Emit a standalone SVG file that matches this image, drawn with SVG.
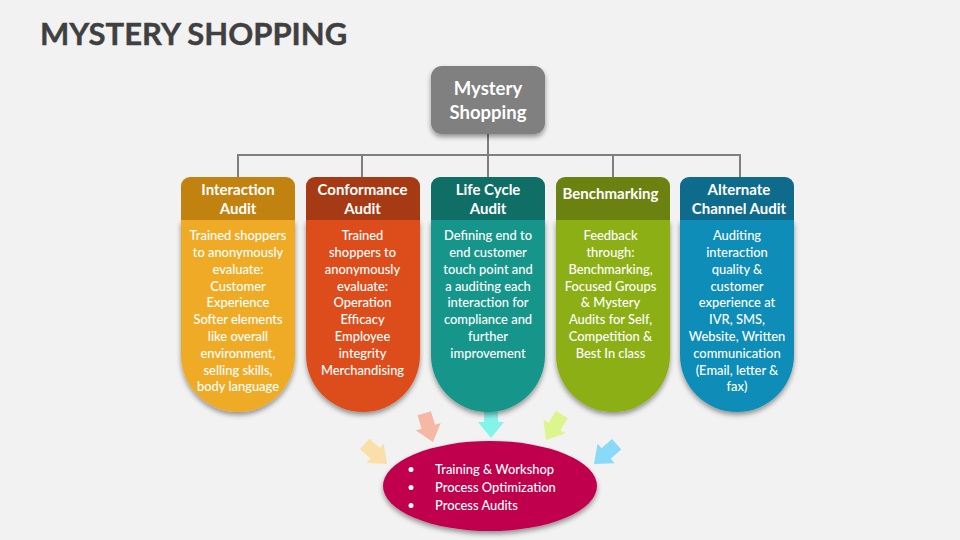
<svg xmlns="http://www.w3.org/2000/svg" width="960" height="540" viewBox="0 0 960 540">
<defs>
<filter id="sh" x="-20%" y="-20%" width="140%" height="140%"><feDropShadow dx="0" dy="3" stdDeviation="2.5" flood-color="#000" flood-opacity="0.4"/></filter>
<polygon id="arrow" points="0,0 -13,-16 -7,-16 -7,-30 7,-30 7,-16 13,-16"/>
</defs>
<style>
text{font-family:Lato,"Liberation Sans",sans-serif;fill:#fff;text-anchor:middle}
.title{font-size:31px;font-weight:700;fill:#404040;text-anchor:start;stroke:#404040;stroke-width:0.4}
.root{font-size:18.5px;font-weight:700}
.hd{font-size:15px;font-weight:700}
.bd{font-size:12.9px;font-weight:500}
.lst{font-size:12.9px;font-weight:500;text-anchor:start}
.conn{fill:none;stroke:#7f7f7f;stroke-width:2}
</style>
<rect width="960" height="540" fill="#f2f2f2"/>
<text class="title" x="40" y="45">MYSTERY SHOPPING</text>
<g id="connectors">
<path class="conn" d="M488 134V177M238 177V155H740V177M362 155V177M613 155V177"/>
</g>
<g id="arrows">
<use href="#arrow" transform="translate(387,464) rotate(-48)" fill="#FBDFA9"/>
<use href="#arrow" transform="translate(433,442) rotate(-17)" fill="#F5B8A4"/>
<use href="#arrow" transform="translate(491,438)" fill="#84F4EA"/>
<use href="#arrow" transform="translate(546,440) rotate(32)" fill="#DCF58C"/>
<use href="#arrow" transform="translate(594,464) rotate(49)" fill="#88DAF8"/>
</g>
<g id="node-root">
<rect x="431" y="66" width="114" height="68" rx="11" fill="#808080" filter="url(#sh)"/>
<text class="root" x="488" y="95">Mystery</text>
<text class="root" x="488" y="119">Shopping</text>
</g>
<g id="node-interaction">
<path d="M181 220H295V355A57 57 0 0 1 181 355Z" fill="#F0AB27" filter="url(#sh)"/>
<path d="M181 220V186A9 9 0 0 1 190 177H286A9 9 0 0 1 295 186V220Z" fill="#C2820F"/>
<text class="hd" x="238" y="195">Interaction</text>
<text class="hd" x="238" y="214">Audit</text>
<text class="bd" x="238" y="240">Trained shoppers</text>
<text class="bd" x="238" y="257">to anonymously</text>
<text class="bd" x="238" y="274">evaluate:</text>
<text class="bd" x="238" y="291">Customer</text>
<text class="bd" x="238" y="307">Experience</text>
<text class="bd" x="238" y="324">Softer elements</text>
<text class="bd" x="238" y="341">like overall</text>
<text class="bd" x="238" y="358">environment,</text>
<text class="bd" x="238" y="375">selling skills,</text>
<text class="bd" x="238" y="391">body language</text>
</g>
<g id="node-conformance">
<path d="M306 220H420V355A57 57 0 0 1 306 355Z" fill="#DD4E1A" filter="url(#sh)"/>
<path d="M306 220V186A9 9 0 0 1 315 177H411A9 9 0 0 1 420 186V220Z" fill="#A63A14"/>
<text class="hd" x="362.500" y="195">Conformance</text>
<text class="hd" x="362.500" y="214">Audit</text>
<text class="bd" x="362.500" y="240">Trained</text>
<text class="bd" x="362.500" y="257">shoppers to</text>
<text class="bd" x="362.500" y="274">anonymously</text>
<text class="bd" x="362.500" y="291">evaluate:</text>
<text class="bd" x="362.500" y="307">Operation</text>
<text class="bd" x="362.500" y="324">Efficacy</text>
<text class="bd" x="362.500" y="341">Employee</text>
<text class="bd" x="362.500" y="358">integrity</text>
<text class="bd" x="362.500" y="375">Merchandising</text>
</g>
<g id="node-lifecycle">
<path d="M431 220H545V355A57 57 0 0 1 431 355Z" fill="#12968A" filter="url(#sh)"/>
<path d="M431 220V186A9 9 0 0 1 440 177H536A9 9 0 0 1 545 186V220Z" fill="#0F6E66"/>
<text class="hd" x="488" y="195">Life Cycle</text>
<text class="hd" x="488" y="214">Audit</text>
<text class="bd" x="488" y="240">Defining end to</text>
<text class="bd" x="488" y="257">end customer</text>
<text class="bd" x="488" y="274">touch point and</text>
<text class="bd" x="488" y="291">a auditing each</text>
<text class="bd" x="488" y="307">interaction for</text>
<text class="bd" x="488" y="324">compliance and</text>
<text class="bd" x="488" y="341">further</text>
<text class="bd" x="488" y="358">improvement</text>
</g>
<g id="node-benchmarking">
<path d="M556 220H670V355A57 57 0 0 1 556 355Z" fill="#8CAF12" filter="url(#sh)"/>
<path d="M556 220V186A9 9 0 0 1 565 177H661A9 9 0 0 1 670 186V220Z" fill="#6B8211"/>
<text class="hd" x="610.500" y="199">Benchmarking</text>
<text class="bd" x="610.500" y="240">Feedback</text>
<text class="bd" x="610.500" y="257">through:</text>
<text class="bd" x="610.500" y="274">Benchmarking,</text>
<text class="bd" x="610.500" y="291">Focused Groups</text>
<text class="bd" x="610.500" y="307">&amp; Mystery</text>
<text class="bd" x="610.500" y="324">Audits for Self,</text>
<text class="bd" x="610.500" y="341">Competition &amp;</text>
<text class="bd" x="610.500" y="358">Best In class</text>
</g>
<g id="node-alternate">
<path d="M680 220H794V355A57 57 0 0 1 680 355Z" fill="#0F8DB8" filter="url(#sh)"/>
<path d="M680 220V186A9 9 0 0 1 689 177H785A9 9 0 0 1 794 186V220Z" fill="#0F6B8C"/>
<text class="hd" x="739" y="195">Alternate</text>
<text class="hd" x="739" y="214">Channel Audit</text>
<text class="bd" x="737" y="240">Auditing</text>
<text class="bd" x="737" y="257">interaction</text>
<text class="bd" x="737" y="274">quality &amp;</text>
<text class="bd" x="737" y="291">customer</text>
<text class="bd" x="737" y="307">experience at</text>
<text class="bd" x="737" y="324">IVR, SMS,</text>
<text class="bd" x="737" y="341">Website, Written</text>
<text class="bd" x="737" y="358">communication</text>
<text class="bd" x="737" y="375">(Email, letter &amp;</text>
<text class="bd" x="737" y="391">fax)</text>
</g>
<g id="node-outcome">
<ellipse cx="490" cy="486" rx="107" ry="45" fill="#C0004E" filter="url(#sh)"/>
<circle cx="411" cy="469.500" r="2.500" fill="#fff"/>
<circle cx="411" cy="487.500" r="2.500" fill="#fff"/>
<circle cx="411" cy="505.500" r="2.500" fill="#fff"/>
<text class="lst" x="435" y="474">Training &amp; Workshop</text>
<text class="lst" x="435" y="492">Process Optimization</text>
<text class="lst" x="435" y="510">Process Audits</text>
</g>
</svg>
